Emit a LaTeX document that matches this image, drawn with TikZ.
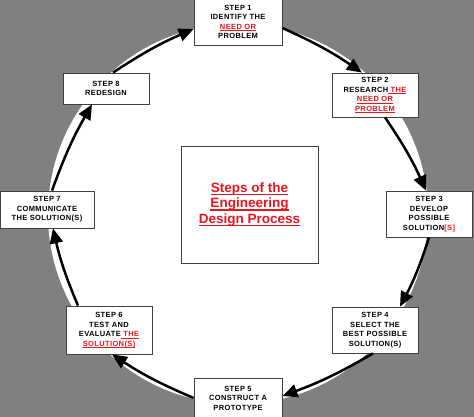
\documentclass[tikz,border=0pt]{standalone}
\usepackage{xcolor}
\usepackage{fontspec}
\setmainfont{Liberation Sans}
\usepackage{tikz}
\usetikzlibrary{arrows.meta}
\definecolor{bggray}{RGB}{128,128,128}
\definecolor{stepred}{RGB}{232,20,30}
\newsavebox{\hlbox}
\newcommand{\hl}[2][0.6pt]{\textcolor{stepred}{\sbox{\hlbox}{#2}\rlap{\rule[-1.6pt]{\wd\hlbox}{#1}}\usebox{\hlbox}}}
\newcommand{\hltitle}[1]{\textcolor{stepred}{\sbox{\hlbox}{#1}\rlap{\rule[-2.8pt]{\wd\hlbox}{1.3pt}}\usebox{\hlbox}}}

\begin{document}
\begin{tikzpicture}[x=1pt,y=-1pt,
    stepbox/.style={draw=black!75, fill=white, line width=0.8pt, align=center, inner sep=1pt,
      font=\fontsize{7.5}{9.5}\selectfont\bfseries\addfontfeature{LetterSpace=5}},
    flowarrow/.style={-{Triangle[length=15pt,width=13pt]}, line width=2.5pt, bend left=5}]
  \useasboundingbox (0,0) rectangle (474,417);
  % Background and circle
  \fill[bggray] (0,0) rectangle (474,417);
  \fill[white] (238,214) circle (190pt);

  % Title box
  \node[draw=black!75, fill=white, line width=0.8pt, minimum width=137pt, minimum height=117pt,
    align=center, font=\fontsize{13.5}{15.5}\selectfont\bfseries] (title) at (249.5,204.5)
    {\hltitle{Steps of the}\\\hltitle{Engineering}\\\hltitle{Design Process}};

  % Steps
  \node[stepbox, minimum width=88pt, minimum height=46pt] (s1) at (238,22) {STEP 1\\IDENTIFY THE\\\hl{NEED OR}\\PROBLEM};
  \node[stepbox, minimum width=86pt, minimum height=44pt] (s2) at (375,95) {STEP 2\\RESEARCH\hl{ THE}\\\hl{NEED OR}\\\hl{PROBLEM}};
  \node[stepbox, minimum width=86pt, minimum height=46pt] (s3) at (429,214) {STEP 3\\DEVELOP\\POSSIBLE\\SOLUTION\textcolor{stepred}{[S]}};
  \node[stepbox, minimum width=86pt, minimum height=46pt] (s4) at (375,330) {STEP 4\\SELECT THE\\BEST POSSIBLE\\SOLUTION(S)};
  \node[stepbox, minimum width=88pt, minimum height=40pt] (s5) at (238,398) {STEP 5\\CONSTRUCT A\\PROTOTYPE};
  \node[stepbox, minimum width=86pt, minimum height=48pt] (s6) at (109,330) {STEP 6\\TEST AND\\EVALUATE\hl{ THE}\\\hl{SOLUTION(S)}};
  \node[stepbox, minimum width=94pt, minimum height=37pt] (s7) at (47,209.5) {STEP 7\\COMMUNICATE\\THE SOLUTION(S)};
  \node[stepbox, minimum width=86pt, minimum height=31pt] (s8) at (106,88.5) {STEP 8\\REDESIGN};

  % Arrows round the circle
  \draw[flowarrow] ([xshift=7pt]s8.north) to ([yshift=-7pt]s1.west);
  \draw[flowarrow] ([yshift=-6pt]s1.east) to ([xshift=-13pt]s2.north);
  \draw[flowarrow] ([xshift=10pt]s2.south) to ([xshift=-3pt]s3.north);
  \draw[flowarrow] (s3.south) to ([xshift=25pt]s4.north);
  \draw[flowarrow] ([xshift=-2pt]s4.south) to ([yshift=2pt]s5.east);
  \draw[flowarrow] (s5.west) to ([xshift=3pt]s6.south);
  \draw[flowarrow] ([xshift=-31pt]s6.north) to ([xshift=6pt]s7.south);
  \draw[flowarrow] ([xshift=5pt]s7.north) to ([xshift=-14pt]s8.south);
\end{tikzpicture}
\end{document}
